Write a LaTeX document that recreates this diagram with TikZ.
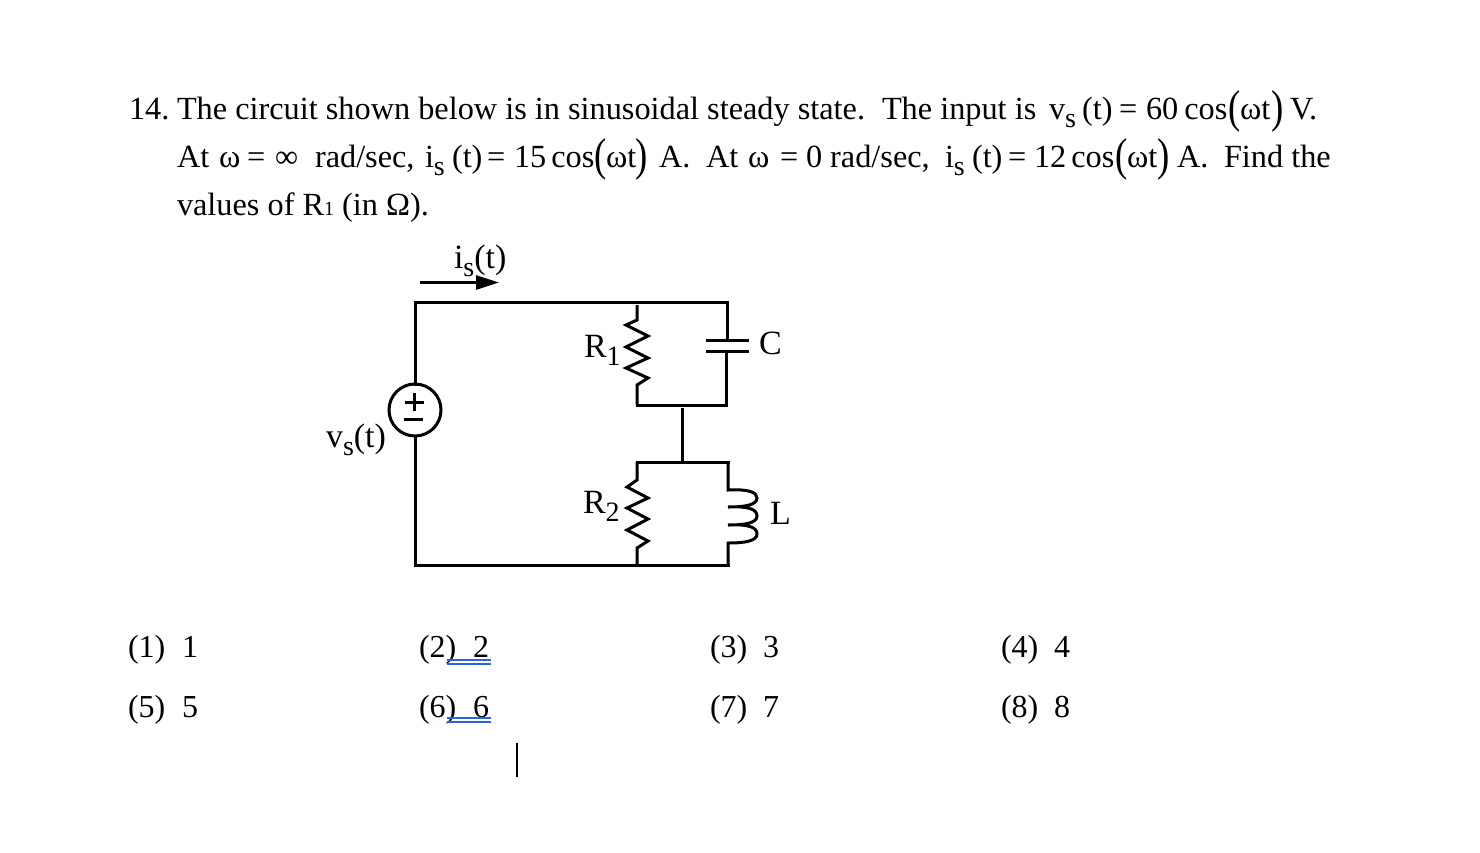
\documentclass[tikz,border=0pt]{standalone}
\usepackage{fontspec}
\setmainfont{Liberation Serif}
\usetikzlibrary{arrows.meta}
\newcommand{\sz}{\fontsize{32.3}{36}\selectfont}
\newcommand{\ssz}{\fontsize{28}{30}\selectfont}
\newcommand{\bigp}[1]{{\fontsize{46}{46}\selectfont\raisebox{-3pt}{\scalebox{0.8}[1]{#1}}}}
\newcommand{\subs}[1]{\raisebox{-8pt}{\ssz #1}}
\tikzset{
  x=1pt,y=-1pt,
  txt/.style={anchor=base west,inner sep=0pt,outer sep=0pt,font=\sz,text=black},
  ans/.style={txt,font=\fontsize{32}{36}\selectfont},
  lab/.style={txt,font=\fontsize{34}{36}\selectfont},
  wire/.style={draw=black,line width=3pt,line cap=rect,line join=miter},
  comp/.style={draw=black,line width=3pt,line join=miter},
  dbl/.style={draw={rgb,255:red,45;green,100;blue,215},line width=2pt},
  caret/.style={draw=black,line width=2pt},
  src/.style={circle,draw=black,line width=3pt,minimum size=52pt,inner sep=0pt,outer sep=0pt,fill=white}
}
\begin{document}
\begin{tikzpicture}
\useasboundingbox[fill=white] (0,0) rectangle (1480,852);
% Text line 1
\node[txt] (t0) at (129,119) {14.};
\node[txt] (t1) at (177,119) {The circuit shown below is in sinusoidal steady state.};
\node[txt] (t2) at (882,119) {The input is};
\node[txt] (t3) at (1049,119) {v\subs{s}};
\node[txt] (t4) at (1082,119) {(t)};
\node[txt] (t4a) at (1119,119) {=};
\node[txt] (t4b) at (1146,119) {60\kern-2pt\ cos};
\node[txt] (t4c) at (1228,119) {\bigp{(}};
\node[txt] (t4d) at (1240,119) {ωt};
\node[txt] (t4e) at (1271,119) {\bigp{)}};
\node[txt] (t4f) at (1290,119) {V.};
% line 2
\node[txt] (t5) at (177,167) {At};
\node[txt] (t6) at (219,167) {ω};
\node[txt] (t6a) at (247,167) {=};
\node[txt] (t6b) at (275,167) {∞};
\node[txt] (t7) at (315,167) {rad/sec,};
\node[txt] (t8) at (425,167) {i\subs{s}};
\node[txt] (t9) at (452,167) {(t)};
\node[txt] (t9a) at (487,167) {=};
\node[txt] (t9b) at (514,167) {15\kern-3pt\ cos};
\node[txt] (t9c) at (594,167) {\bigp{(}};
\node[txt] (t9d) at (606,167) {ωt};
\node[txt] (t9e) at (635,167) {\bigp{)}};
\node[txt] (t9f) at (659,167) {A.};
\node[txt] (t10) at (706,167) {At};
\node[txt] (t11) at (748,167) {ω};
\node[txt] (t11a) at (780,167) {=};
\node[txt] (t11b) at (806,167) {0 rad/sec,};
\node[txt] (t12) at (945,167) {i\subs{s}};
\node[txt] (t13) at (972,167) {(t)};
\node[txt] (t13a) at (1008,167) {=};
\node[txt] (t13b) at (1034,167) {12\kern-3pt\ cos};
\node[txt] (t13c) at (1115,167) {\bigp{(}};
\node[txt] (t13d) at (1127,167) {ωt};
\node[txt] (t13e) at (1157,167) {\bigp{)}};
\node[txt] (t13f) at (1177,167) {A.};
\node[txt] (t14) at (1224,167) {Find the};
\node[txt] (t15) at (177,215) {values of R\raisebox{0pt}{\fontsize{20}{24}\selectfont 1} (in Ω).};
% Answers
\node[ans] (a1) at (128,657) {(1)};
\node[ans] (a1v) at (182,657) {1};
\node[ans] (a2) at (419,657) {(2)};
\node[ans] (a2v) at (473,657) {2};
\node[ans] (a3) at (710,657) {(3)};
\node[ans] (a3v) at (763,657) {3};
\node[ans] (a4) at (1001,657) {(4)};
\node[ans] (a4v) at (1054,657) {4};
\node[ans] (a5) at (128,717) {(5)};
\node[ans] (a5v) at (182,717) {5};
\node[ans] (a6) at (419,717) {(6)};
\node[ans] (a6v) at (473,717) {6};
\node[ans] (a7) at (710,717) {(7)};
\node[ans] (a7v) at (763,717) {7};
\node[ans] (a8) at (1001,717) {(8)};
\node[ans] (a8v) at (1054,717) {8};
% spell-check double underlines
\coordinate (u1a) at (447,660); \coordinate (u1b) at (491,660);
\coordinate (u2a) at (447,664); \coordinate (u2b) at (491,664);
\coordinate (u3a) at (447,717.5); \coordinate (u3b) at (491,717.5);
\coordinate (u4a) at (447,722); \coordinate (u4b) at (491,722);
\draw[dbl] (u1a) -- (u1b); \draw[dbl] (u2a) -- (u2b);
\draw[dbl] (u3a) -- (u3b); \draw[dbl] (u4a) -- (u4b);
\coordinate (c1) at (517,743); \coordinate (c2) at (517,777);
\draw[caret] (c1) -- (c2);
% Circuit coordinates
\coordinate (TL) at (415,302);
\coordinate (TR) at (727,302);
\coordinate (BL) at (415,565);
\coordinate (BR) at (728,565);
\coordinate (BM) at (637,565);
\coordinate (R1t) at (637,305);
\coordinate (R1b) at (637,405);
\coordinate (Cb) at (726,405);
\coordinate (Ct) at (727,340);
\coordinate (Cl) at (726,351);
\coordinate (Mt) at (682,408);
\coordinate (Mb) at (682,462);
\coordinate (R2t) at (637,462);
\coordinate (Lt) at (728,462);
\node[src] (V) at (415,410) {};
% Wires
\draw[wire] (V.north) -- (TL) -- (TR) -- (Ct);
\draw[wire] (V.south) -- (BL) -- (BR);
\draw[wire] (R2t) -- (Lt);
% R1
\draw[comp] (R1t) -- (637,320) -- (626,325) -- (648,336) -- (626,347) -- (648,358) -- (626,368) -- (648,378) -- (637,385) -- (R1b);
\draw[wire] (R1b) -- (Cb) -- (Cl);
% C plates
\draw[comp] (706,340) -- (749,340);
\draw[comp] (706,351) -- (749,351);
\draw[comp] (Mt) -- (Mb);
% R2
\draw[comp] (R2t) -- (637,480) -- (627,487) -- (648,498) -- (627,508) -- (648,519) -- (627,530) -- (648,541) -- (637,548) -- (BM);
% L
\draw[comp] (Lt) -- (728,490) .. controls (748,489) and (757,492) .. (757,498) .. controls (757,505) and (745,507) .. (728,507)
 .. controls (748,506) and (757,509) .. (757,516) .. controls (757,523) and (745,525) .. (728,525)
 .. controls (748,524) and (757,527) .. (757,534) .. controls (757,541) and (745,543) .. (728,543) -- (BR);
% source signs
\coordinate (p1) at (405,402); \coordinate (p2) at (424,402);
\coordinate (p3) at (414.5,393); \coordinate (p4) at (414.5,411);
\coordinate (m1) at (404,419); \coordinate (m2) at (423,419);
\draw[comp] (p1) -- (p2); \draw[comp] (p3) -- (p4); \draw[comp] (m1) -- (m2);
% current arrow
\coordinate (ia) at (420,282.5); \coordinate (ib) at (499,282.5);
\draw[draw=black,line width=2.6pt,-{Triangle[length=23pt,width=14pt]}] (ia) -- (ib);
% Labels
\node[lab] (li) at (454,268) {i\subs{s}(t)};
\node[lab] (lv) at (326,447) {v\subs{s}(t)};
\node[lab] (lr1) at (584,357) {R\subs{1}};
\node[lab] (lr2) at (583,513) {R\subs{2}};
\node[lab] (lc) at (759,354) {C};
\node[lab] (ll) at (770,524) {L};
\end{tikzpicture}
\end{document}
